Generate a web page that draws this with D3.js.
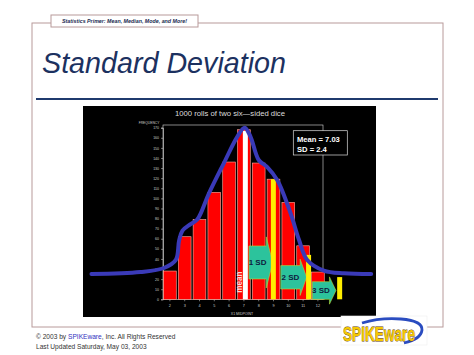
<!DOCTYPE html>
<html lang="en">
<head>
  <meta charset="UTF-8">
  <script src="https://cdn.jsdelivr.net/npm/d3@7"></script>
  <title>Standard Deviation</title>
  <style>
    body { margin: 0; background: #fff; }
    svg { display: block; font-family: "Liberation Sans", Arial, sans-serif; }
  </style>
</head>
<body>
  <script>
    // frequency of each sum
    const sums = [2, 3, 4, 5, 6, 7, 8, 9, 10, 11, 12];
    const counts = [28, 62, 79, 106, 136, 168, 135, 119, 96, 53, 27];
    const yTicks = d3.range(0, 171, 10);
    const meanValue = 7.03;
    const sdValue = 2.4;

    // blue "normal" curve: [sum, frequency]
    const curvePts = [[-3.3, 25], [0, 27], [1.6, 31], [2.4, 39], [2.62, 58], [2.85, 68], [3.4, 74.5],
      [3.85, 79], [4.64, 105], [5.65, 135], [6.55, 161], [7.05, 170], [7.45, 161], [8.0, 138],
      [8.58, 131], [9.26, 118], [10.16, 85], [10.72, 59], [11.28, 39], [12.4, 28.5], [13.76, 25.7], [15.6, 25]];

    // yellow SD stripes: [sum position, height]
    const sdStripes = [[8.99, 119], [11.37, 44], [13.47, 22]];
    // arrows: label, left, tip (sum units), centre (frequency)
    const arrowLabels = ["1 SD", "2 SD", "3 SD"];
    const arrowLeft = [7.34, 9.49, 11.62];
    const arrowTip = [8.95, 11.24, 13.22];
    const arrowMid = [36.5, 21.8, 8.7];
    const arrowHalf = [16.5, 11.7, 8.8];

    const W = 474, H = 355;
    const svg = d3.select("body").append("svg").attr("width", W).attr("height", H);

    // ---- slide frame ----
    const frameCol = "#b89a9a";
    svg.append("rect").attr("x", 32).attr("y", 23).attr("width", 411).attr("height", 304)
      .attr("fill", "#fff").attr("stroke", frameCol).attr("stroke-width", 1);
    svg.append("rect").attr("x", 51).attr("y", 15).attr("width", 147).attr("height", 12)
      .attr("fill", "#fff").attr("stroke", frameCol).attr("stroke-width", 1);
    svg.append("text").attr("x", 62).attr("y", 23.3)
      .attr("font-size", 5.5).attr("font-weight", "bold").attr("font-style", "italic")
      .attr("fill", "#1a2a50").attr("textLength", 125).attr("lengthAdjust", "spacingAndGlyphs")
      .text("Statistics Primer:  Mean, Median, Mode, and More!");

    svg.append("text").attr("x", 42).attr("y", 73.3)
      .attr("font-size", 28.7).attr("font-style", "italic").attr("fill", "#1c3160")
      .text("Standard Deviation");
    svg.append("line").attr("x1", 36).attr("x2", 438).attr("y1", 99).attr("y2", 99)
      .attr("stroke", "#1f3a6e").attr("stroke-width", 2);

    // ---- black chart panel ----
    svg.append("rect").attr("x", 83).attr("y", 106).attr("width", 293).attr("height", 211).attr("fill", "#000");
    svg.append("text").attr("x", 230).attr("y", 115.5).attr("text-anchor", "middle")
      .attr("font-size", 8).attr("fill", "#ddd").attr("textLength", 110).attr("lengthAdjust", "spacingAndGlyphs")
      .text("1000 rolls of two six\u2014sided dice");

    const x = d3.scaleBand().domain(sums).range([162.5, 325.3]).paddingInner(0.14).paddingOuter(0.07);
    const xLin = d3.scaleLinear().domain([2, 12]).range([x(2) + x.bandwidth() / 2, x(12) + x.bandwidth() / 2]);
    const y = d3.scaleLinear().domain([0, 170]).range([299.3, 127.7]);

    // plot frame
    svg.append("rect").attr("x", 163).attr("y", 125).attr("width", 160).attr("height", 174.3)
      .attr("fill", "none").attr("stroke", "#ddd").attr("stroke-width", 0.6);

    const yAxis = svg.append("g").attr("transform", "translate(163,0)")
      .call(d3.axisLeft(y).tickValues(yTicks).tickSize(2).tickPadding(2));
    yAxis.select(".domain").attr("stroke", "#ddd").attr("stroke-width", 0.6);
    yAxis.selectAll(".tick line").attr("stroke", "#ddd").attr("stroke-width", 0.5);
    yAxis.selectAll("text").attr("fill", "#ccc").attr("font-size", 3.5);

    const xAxis = svg.append("g").attr("transform", "translate(0,299.3)")
      .call(d3.axisBottom(x).tickSize(2).tickPadding(3));
    xAxis.select(".domain").remove();
    xAxis.selectAll(".tick line").attr("stroke", "#ddd").attr("stroke-width", 0.5);
    xAxis.selectAll("text").attr("fill", "#ccc").attr("font-size", 3.8);

    svg.append("text").attr("x", 149).attr("y", 123.5).attr("text-anchor", "middle")
      .attr("font-size", 3.3).attr("fill", "#ccc").text("FREQUENCY");
    svg.append("text").attr("x", 242).attr("y", 314.5).attr("text-anchor", "middle")
      .attr("font-size", 3.5).attr("fill", "#ccc").text("X1 MIDPOINT");

    // bars
    svg.append("g").selectAll("rect").data(sums).join("rect")
      .attr("x", d => x(d)).attr("width", x.bandwidth())
      .attr("y", (d, i) => y(counts[i])).attr("height", (d, i) => y(0) - y(counts[i]))
      .attr("fill", "#ff0000").attr("stroke", "#ffb0a0").attr("stroke-width", 0.6);

    // mean stripe and label
    const meanTop = y(counts[sums.indexOf(7)]) + 1;
    svg.append("rect").attr("x", xLin(meanValue) - 1.5).attr("width", 5)
      .attr("y", meanTop).attr("height", y(0) - meanTop)
      .attr("fill", "#fff");
    svg.append("text").attr("transform", `translate(${xLin(meanValue) - 2.2},${y(17)}) rotate(-90)`)
      .attr("text-anchor", "middle").attr("font-size", 8.5).attr("font-weight", "bold")
      .attr("fill", "#ffd8d8").attr("textLength", 21).attr("lengthAdjust", "spacingAndGlyphs")
      .text("mean");

    // arrows
    const arrows = svg.append("g").selectAll("g").data(arrowLabels).join("g");
    arrows.append("path")
      .attr("d", (d, i) => {
        const l = xLin(arrowLeft[i]), t = xLin(arrowTip[i]), c = y(arrowMid[i]);
        const h = arrowHalf[i], hh = h * 1.55, neck = t - 6.5;
        return `M${l},${c - h}L${neck},${c - h}L${neck},${c - hh}L${t},${c}L${neck},${c + hh}L${neck},${c + h}L${l},${c + h}Z`;
      })
      .attr("fill", "#2cc39c").attr("stroke", "#b8d830").attr("stroke-width", 0.6);
    arrows.append("text")
      .attr("x", (d, i) => (xLin(arrowLeft[i]) + xLin(arrowTip[i]) - 6.5) / 2)
      .attr("y", (d, i) => y(arrowMid[i]) + 2.8)
      .attr("text-anchor", "middle").attr("font-size", 8).attr("font-weight", "bold")
      .attr("fill", "#0e1c40").text(d => d);

    // yellow SD stripes
    svg.append("g").selectAll("rect").data(sdStripes).join("rect")
      .attr("x", d => xLin(d[0]) - 2.5).attr("width", 5)
      .attr("y", d => y(d[1])).attr("height", d => y(0) - y(d[1]))
      .attr("fill", "#ffee00");

    // blue curve
    const line = d3.line().x(d => xLin(d[0])).y(d => y(d[1])).curve(d3.curveCatmullRom.alpha(0.5));
    svg.append("path").datum(curvePts).attr("d", line)
      .attr("fill", "none").attr("stroke", "#3a3ab8").attr("stroke-width", 4)
      .attr("stroke-linecap", "round");

    // stats box
    svg.append("rect").attr("x", 293.3).attr("y", 130.7).attr("width", 54).attr("height", 24.3)
      .attr("fill", "#000").attr("stroke", "#ddd").attr("stroke-width", 0.7);
    svg.append("text").attr("x", 297).attr("y", 141.8).attr("font-size", 7.6).attr("font-weight", "bold")
      .attr("fill", "#fff").text(`Mean = ${meanValue}`);
    svg.append("text").attr("x", 297).attr("y", 151.8).attr("font-size", 7.6).attr("font-weight", "bold")
      .attr("fill", "#fff").text(`SD = ${sdValue}`);

    // ---- footer ----
    const foot = svg.append("text").attr("x", 36).attr("y", 339).attr("font-size", 6.6).attr("fill", "#333");
    foot.append("tspan").text("\u00a9 2003 by ");
    foot.append("tspan").attr("fill", "#3030c0").text("SPIKEware");
    foot.append("tspan").text(", Inc.  All Rights Reserved");
    svg.append("text").attr("x", 36).attr("y", 348.5).attr("font-size", 6.6).attr("fill", "#333")
      .text("Last Updated Saturday, May 03, 2003");

    // logo
    svg.append("rect").attr("x", 341).attr("y", 316).attr("width", 86).attr("height", 29)
      .attr("fill", "#fff").attr("stroke", "#eee").attr("stroke-width", 0.6);
    svg.append("path").attr("d", "M362,323 C385,316 423,317 422,330 C421,338 413,341 404,343")
      .attr("fill", "none").attr("stroke", "#2a4cc0").attr("stroke-width", 2.8);
    svg.append("text").attr("x", 343).attr("y", 341)
      .attr("font-family", "'Liberation Sans Narrow', 'Arial Narrow', sans-serif")
      .attr("font-size", 21).attr("font-weight", "bold").attr("fill", "#f5c800")
      .attr("stroke", "#5a3a10").attr("stroke-width", 0.8).attr("paint-order", "stroke")
      .attr("textLength", 72).attr("lengthAdjust", "spacingAndGlyphs")
      .text("SPIKEware");
  </script>
</body>
</html>
